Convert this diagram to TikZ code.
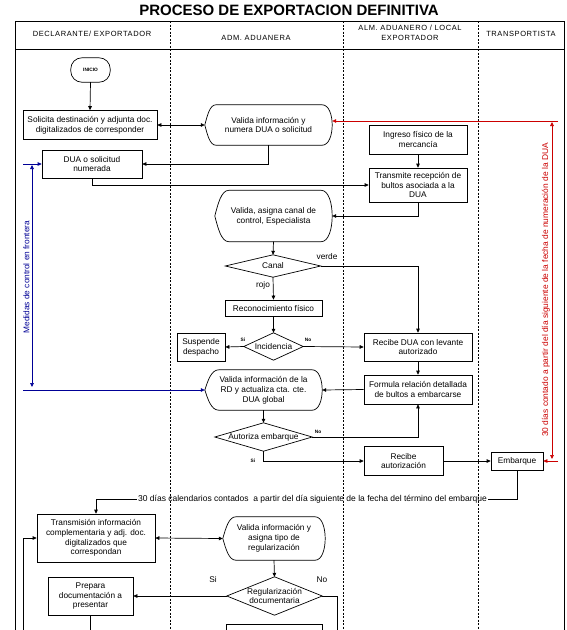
\documentclass[tikz,border=0pt]{standalone}
\usepackage{fontspec}
\setmainfont{Liberation Sans}
\usetikzlibrary{calc,arrows.meta}
\definecolor{myred}{RGB}{204,0,0}
\definecolor{myblue}{RGB}{0,0,150}
\newcommand\dispshape[3]{%
  \draw[shp] ($(#1.north west)+(#2,0)$) -- ($(#1.north east)+(-#3,0)$)
    .. controls ($(#1.north east)+(#3/3,0)$) and ($(#1.south east)+(#3/3,0)$) .. ($(#1.south east)+(-#3,0)$)
    -- ($(#1.south west)+(#2,0)$)
    .. controls ($(#1.south west)+(0.45*#2,0)$) and ($(#1.west)!0.45!(#1.south west)+(0.22*#2,0)$) .. (#1.west)
    .. controls ($(#1.west)!0.45!(#1.north west)+(0.22*#2,0)$) and ($(#1.north west)+(0.45*#2,0)$) .. cycle;}
\newcommand\diam[1]{\draw[shp] (#1.north) -- (#1.east) -- (#1.south) -- (#1.west) -- cycle;}
\begin{document}
\begin{tikzpicture}[x=1pt,y=-1pt,
  >={Triangle[length=4pt,width=3.6pt]},
  shp/.style={line width=0.7pt},
  txt/.style={font=\fontsize{8.3}{9.8}\selectfont, align=center, inner sep=0pt},
  box/.style={txt, draw, line width=0.7pt},
  sz/.style n args={2}{minimum width=#1pt, minimum height=#2pt},
  ln/.style={line width=0.7pt},
  arr/.style={line width=0.7pt, ->},
  darr/.style={line width=0.7pt, <->},
  lane/.style={line width=0.6pt, dash pattern=on 2pt off 1.5pt},
  hdr/.style={font=\fontsize{7.5}{9.5}\selectfont\addfontfeature{LetterSpace=8}, align=center, inner sep=0pt},
  tiny/.style={font=\fontsize{4.8}{5}\selectfont\bfseries, inner sep=0pt},
  bluetxt/.style={txt, text=myblue},
  redtxt/.style={font=\fontsize{8.4}{9}\selectfont, inner sep=0pt, text=myred},
  barr/.style={line width=0.7pt, draw=myblue, ->},
  bdarr/.style={line width=0.7pt, draw=myblue, <->},
  rarr/.style={line width=0.7pt, draw=myred, ->},
  rdarr/.style={line width=0.7pt, draw=myred, <->}]
\useasboundingbox (0,0) rectangle (567,630);
\fill[white] (0,0) rectangle (567,630);
\clip (0,0) rectangle (567,630);

% title and frame
\node[font=\fontsize{15}{15}\selectfont\bfseries, inner sep=0pt] (title) at (289,10) {PROCESO DE EXPORTACION DEFINITIVA};
\draw[ln] (15,21) rectangle (564,660);
\draw[ln] (15,49) -- (564,49);
\draw[lane] (170.5,21) -- (170.5,640);
\draw[lane] (343,21) -- (343,640);
\draw[lane] (478,21) -- (478,640);
\node[hdr] (h1) at (92,34) {DECLARANTE/ EXPORTADOR};
\node[hdr] (h2) at (256,38) {ADM. ADUANERA};
\node[hdr] (h3) at (410,33) {ALM. ADUANERO / LOCAL\\EXPORTADOR};
\node[hdr] (h4) at (521,34) {TRANSPORTISTA};

% nodes
\node[txt, sz={39}{24}, font=\fontsize{4.8}{5}\selectfont\bfseries] (inicio) at (90.5,70) {INICIO};
\draw[shp, rounded corners=11pt] (inicio.north west) rectangle (inicio.south east);
\node[box, sz={134}{29}] (solicita) at (90,125) {Solicita destinación y adjunta doc.\\digitalizados de corresponder};
\node[txt, sz={127}{40}] (valida1) at (268.5,125) {Valida información y\\numera DUA o solicitud};
\dispshape{valida1}{11}{10}
\node[box, sz={100}{28}] (dua) at (92,164) {DUA o solicitud\\numerada};
\node[box, sz={98}{29}] (ingreso) at (418,139.5) {Ingreso físico de la\\mercancía};
\node[box, sz={98}{34}] (transmite) at (418,185) {Transmite recepción de\\bultos asociada a la\\DUA};
\node[txt, sz={117}{51}] (valida2) at (273.5,216) {Valida, asigna canal de\\control, Especialista};
\dispshape{valida2}{14}{11}
\node[txt, sz={95}{22}] (canal) at (273,266) {Canal};
\diam{canal}
\node[box, sz={97}{16}] (recon) at (273.5,308) {Reconocimiento físico};
\node[txt, sz={59}{27}] (incid) at (273.5,346.5) {Incidencia};
\diam{incid}
\node[box, sz={48}{28}] (suspende) at (201,347) {Suspende\\despacho};
\node[box, sz={108}{28}] (recibe1) at (418,347) {Recibe DUA con levante\\autorizado};
\node[box, sz={108}{29}] (formula) at (418,389.5) {Formula relación detallada\\de bultos a embarcarse};
\node[txt, sz={117}{40}] (rd) at (263.5,390) {Valida información de la\\RD y actualiza cta. cte.\\DUA global};
\dispshape{rd}{14}{10}
\node[txt, sz={97}{28}] (autoriza) at (263.5,437) {Autoriza embarque};
\diam{autoriza}
\node[box, sz={79}{29}] (recauth) at (403.5,461) {Recibe\\autorización};
\node[box, sz={52}{18}] (embarque) at (517,461) {Embarque};
\node[txt, inner xsep=1pt, font=\fontsize{8.5}{9.8}\selectfont] (dias) at (312.5,499) {30 días calendarios contados \ a partir del día siguiente de la fecha del término del embarque};
\node[box, sz={118}{48}] (transmision) at (96,538) {Transmisión información\\complementaria y adj. doc.\\digitalizados que\\correspondan};
\node[txt, sz={102}{43}] (valida3) at (274,538.5) {Valida información y\\asigna tipo de\\regularización};
\dispshape{valida3}{13}{10}
\node[txt, sz={95}{38}] (regdoc) at (274.5,596) {Regularización\\documentaria};
\diam{regdoc}
\node[box, sz={85}{38}] (prepara) at (90.5,596) {Prepara\\documentación a\\presentar};
\node[box, sz={96}{30}] (nextbox) at (274,639) {};

% labels
\node[txt] (lverde) at (327,257) {verde};
\node[txt] (lrojo) at (263,285) {rojo};
\node[tiny] (lsi1) at (243,340) {Si};
\node[tiny] (lno1) at (308,340) {No};
\node[tiny] (lno2) at (318,432) {No};
\node[tiny] (lsi2) at (253,461) {Si};
\node[txt] (lsi3) at (213,580) {Si};
\node[txt] (lno3) at (322,580) {No};

% connectors
\draw[arr] (inicio.south) -- (solicita.north);
\draw[darr] (solicita.east) -- (valida1.west);
\draw[arr] (valida1.south) |- (dua.east);
\draw[arr] (dua.south) |- (transmite.west);
\draw[arr] (ingreso.south) -- (transmite.north);
\draw[arr] (transmite.south) |- (valida2.east);
\draw[arr] (valida2.south) -- (canal.north);
\draw[arr] (canal.east) -| (recibe1.north);
\draw[arr] (canal.south) -- (recon.north);
\draw[arr] (recon.south) -- (incid.north);
\draw[arr] (incid.west) -- (suspende.east);
\draw[arr] (incid.east) -- (recibe1.west);
\draw[arr] (recibe1.south) -- (formula.north);
\draw[arr] (formula.west) -- (rd.east);
\draw[arr] (rd.south) -- (autoriza.north);
\draw[arr] (autoriza.east) -| (formula.south);
\draw[arr] (autoriza.south) |- (recauth.west);
\draw[arr] (recauth.east) -- (embarque.west);
\draw[ln] (embarque.south) |- (dias.east);
\draw[arr] (dias.west) -| (transmision.north);
\draw[darr] (transmision.east) -- (valida3.west);
\draw[arr] (valida3.south) -- (regdoc.north);
\draw[arr] (regdoc.west) -- (prepara.east);
\coordinate (botA) at (90.5,645);
\coordinate (botB) at (337,645);
\coordinate (botC) at (23,645);
\draw[ln] (prepara.south) -- (botA);
\draw[ln] (regdoc.east) -| (botB);
\draw[arr] (botC) |- (transmision.west);

% blue measure
\coordinate (bl1) at (23,164);
\coordinate (bl2) at (23,390);
\coordinate (bt) at (32,165);
\coordinate (bb) at (32,387);
\draw[barr] (bl1) -- (dua.west);
\draw[barr] (bl2) -- (rd.west);
\draw[bdarr] (bt) -- (bb);
\node[bluetxt, rotate=90] (medidas) at (26.5,277) {Medidas de control en frontera};

% red measure
\coordinate (rr1) at (558,121);
\coordinate (rr2) at (558,461);
\coordinate (rt) at (552,122);
\coordinate (rb) at (552,459);
\draw[rarr] (rr1) -- (valida1.east |- rr1);
\draw[rarr] (rr2) -- (embarque.east);
\draw[rdarr] (rt) -- (rb);
\node[redtxt, rotate=90] (dias30) at (546,290) {30 días contado a partir del día siguiente de la fecha de numeración de la DUA};
\end{tikzpicture}
\end{document}
